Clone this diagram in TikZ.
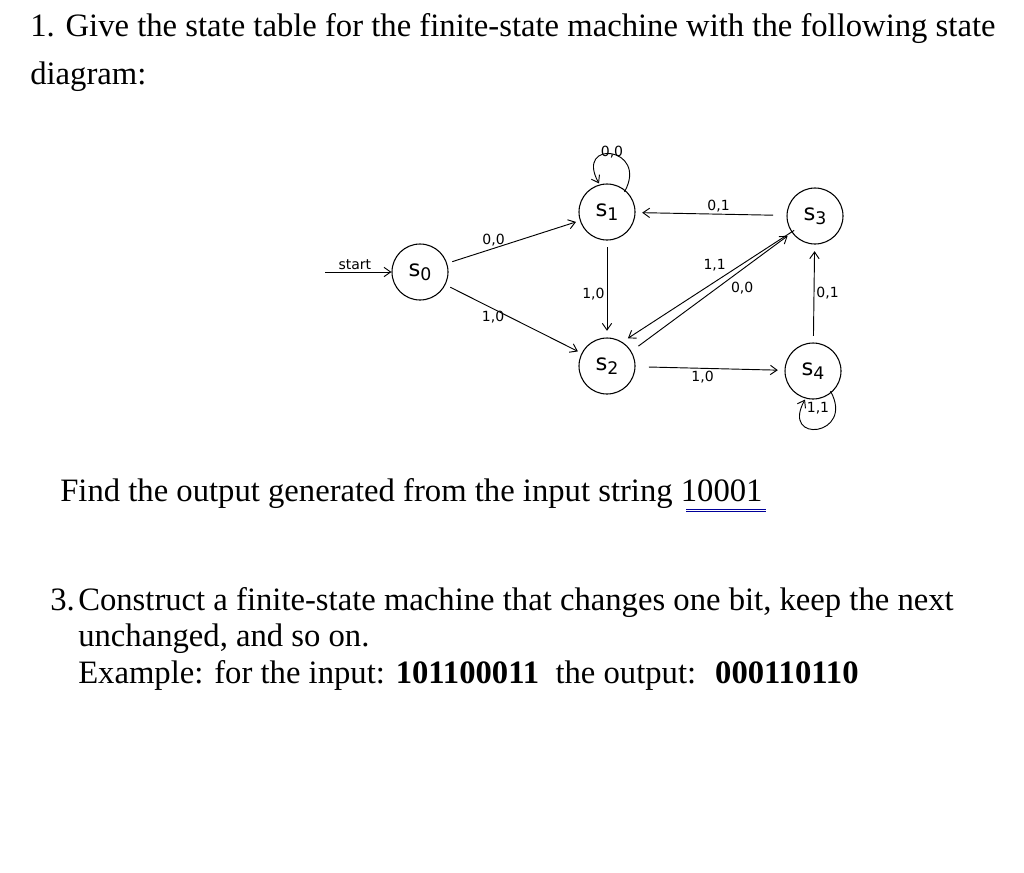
\documentclass[tikz,border=0pt]{standalone}
\usetikzlibrary{arrows.meta}
\usepackage{fontspec}
\setmainfont{Liberation Serif}
\newfontfamily\dg{DejaVu Sans}
\newcommand{\sst}[1]{s\raisebox{-0.35ex}{\fontsize{13}{13}\selectfont #1}}
\begin{document}
\begin{tikzpicture}[x=0.75pt,y=-0.75pt,
 st/.style={circle,draw,line width=0.8pt,minimum size=42pt,inner sep=0pt,font=\dg\fontsize{17}{17}\selectfont},
 lb/.style={font=\dg\fontsize{10.5}{10.5}\selectfont,inner sep=1.5pt},
 ed/.style={->,line width=0.7pt,>={Straight Barb[length=5pt,width=7pt]}},
 tx/.style={anchor=base west,inner sep=0pt,font=\fontsize{24.5}{28}\selectfont}]
\useasboundingbox (0,0) rectangle (1024,872);
\node[tx] (t1) at (30,36) {1. Give the state table for the finite-state machine with the following state};
\node[tx] (t2) at (30,84) {diagram:};
\node[st] (s0) at (420,272) {\sst{0}};
\node[st] (s1) at (607,212) {\sst{1}};
\node[st] (s3) at (815,216) {\sst{3}};
\node[st] (s2) at (607,366) {\sst{2}};
\node[st] (s4) at (813,371) {\sst{4}};
\coordinate (st0) at (325,272);
\draw[ed] (st0) -- node[lb,above,pos=0.45]{start} (s0);
\draw[ed,shorten <=4pt,shorten >=3pt] (s0) -- node[lb,above,pos=0.35]{0,0} (s1);
\draw[ed,shorten <=4pt,shorten >=3pt] (s0) -- node[lb,below,pos=0.35]{1,0} (s2);
\draw[ed,shorten <=5pt,shorten >=5pt] (s1) -- node[lb,left,pos=0.55]{1,0} (s2);
\draw[ed,shorten <=10pt,shorten >=5pt] (s3) -- node[lb,above,pos=0.45]{0,1} (s1);
\draw[ed,shorten <=5pt,shorten >=5pt] (s4) -- node[lb,right,pos=0.5]{0,1} (s3);
\draw[ed,shorten <=10pt,shorten >=5pt] (s2) -- node[lb,below,pos=0.45]{1,0} (s4);
\draw[ed,shorten <=3pt,shorten >=3pt] ([xshift=6pt,yshift=-2pt]s2.north east) -- node[lb,below right,pos=0.6]{0,0} ([xshift=-3pt,yshift=2pt]s3.south west);
\draw[ed,shorten <=3pt,shorten >=3pt] ([xshift=2pt,yshift=6pt]s3.south west) -- node[lb,above left,pos=0.4]{1,1} ([xshift=-2pt,yshift=4pt]s2.north east);
\draw[ed] ([xshift=-2pt]s1.north east) .. controls +(25,-45) and +(-25,-45) .. ([xshift=-6pt]s1.north);
\node[lb] (l11) at (612,152) {0,0};
\draw[ed] ([xshift=-2pt]s4.south east) .. controls +(25,45) and +(-25,45) .. ([xshift=-6pt]s4.south);
\node[lb] (l44) at (818,408) {1,1};
\node[tx] (t3) at (60,501) {Find the output generated from the input string 10001};
\coordinate (u1) at (686,509); \coordinate (u2) at (766,509);
\draw[blue!60!black,line width=0.5pt] (u1) -- (u2);
\draw[blue!60!black,line width=0.5pt] ([yshift=-2pt]u1) -- ([yshift=-2pt]u2);
\node[tx] (t4) at (50,610) {3.};
\node[tx] (t5) at (78,610) {Construct a finite-state machine that changes one bit, keep the next};
\node[tx] (t6) at (78,646) {unchanged, and so on.};
\node[tx] (t7) at (78,683) {Example: for the input: \textbf{101100011}\ \ the output: \ \textbf{000110110}};
\end{tikzpicture}
\end{document}
